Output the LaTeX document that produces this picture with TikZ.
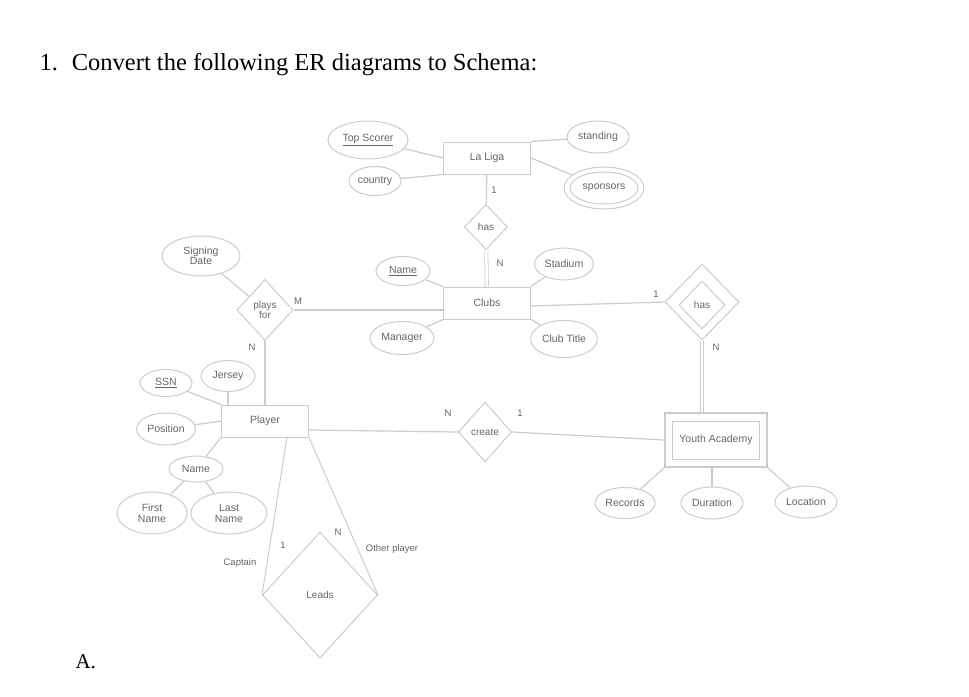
\documentclass[tikz,border=0pt]{standalone}
\usepackage{fontspec}
\setmainfont{Liberation Serif}
\newfontfamily\dsans{Liberation Sans}
\usetikzlibrary{shapes.geometric}
\definecolor{ln}{gray}{0.8}
\definecolor{tx}{gray}{0.4}
\begin{document}
\begin{tikzpicture}[x=1pt,y=-1pt,
  every node/.style={font=\dsans\fontsize{10.5}{10}\selectfont,text=tx},
  ent/.style={draw=ln,line width=1pt,minimum width=87pt,minimum height=32pt},
  att/.style={draw=ln,line width=1pt,ellipse,inner sep=0pt},
  rel/.style={draw=ln,line width=1pt,diamond,inner sep=0pt,align=center,font=\dsans\fontsize{10}{9}\selectfont},
  con/.style={draw=ln,line width=1.2pt},
  dbl/.style={draw=ln,line width=0.8pt,double distance=2.5pt},
  lab/.style={font=\dsans\fontsize{9.5}{9}\selectfont}]
\useasboundingbox[fill=white] (0,0) rectangle (969,696);
\node[anchor=west,text=black,font=\fontsize{24.5}{26}\selectfont] (title) at (36,65) {1.\hspace{14pt}Convert the following ER diagrams to Schema:};
\node[anchor=west,text=black,font=\fontsize{21}{22}\selectfont] (A) at (72,662) {A.};
% entities
\node[ent] (laliga) at (487,158) {La Liga};
\node[ent] (clubs) at (487,303) {Clubs};
\node[ent] (player) at (265,421) {Player};
\node[draw=ln,line width=1.5pt,minimum width=102pt,minimum height=54pt] (ya) at (716,440) {};
\node[draw=ln,line width=1pt,minimum width=87pt,minimum height=38pt] (yain) at (716,440) {Youth Academy};
% attributes
\node[att,minimum width=80pt,minimum height=38pt] (top) at (368,140) {\underline{Top Scorer}};
\node[att,minimum width=52pt,minimum height=29pt] (country) at (375,181) {country};
\node[att,minimum width=62pt,minimum height=32pt] (standing) at (598,137) {standing};
\node[att,minimum width=80pt,minimum height=42pt] (sponsors) at (604,188) {};
\node[att,minimum width=68pt,minimum height=32pt] (sp2) at (604,188) {sponsors};
\node[att,minimum width=59pt,minimum height=32pt] (stadium) at (564,264) {Stadium};
\node[att,minimum width=67pt,minimum height=37pt] (title2) at (564,339) {Club Title};
\node[att,minimum width=54pt,minimum height=29pt] (cname) at (403,271) {\underline{Name}};
\node[att,minimum width=64pt,minimum height=33pt] (manager) at (402,338) {Manager};
\node[att,minimum width=60pt,minimum height=31pt] (records) at (625,503) {Records};
\node[att,minimum width=62pt,minimum height=32pt] (duration) at (712,503) {Duration};
\node[att,minimum width=62pt,minimum height=32pt] (location) at (806,502) {Location};
\node[att,minimum width=78pt,minimum height=40pt,align=center,font=\dsans\fontsize{10.5}{8}\selectfont] (sign) at (201,256) {Signing\\Date};
\node[att,minimum width=52pt,minimum height=27pt] (ssn) at (166,383) {\underline{SSN}};
\node[att,minimum width=54pt,minimum height=31pt] (jersey) at (228,376) {Jersey};
\node[att,minimum width=59pt,minimum height=32pt] (position) at (166,429) {Position};
\node[att,minimum width=54pt,minimum height=26pt] (pname) at (196,469) {Name};
\node[att,minimum width=70pt,minimum height=42pt,align=center,font=\dsans\fontsize{10.5}{11}\selectfont] (first) at (152,513) {First\\Name};
\node[att,minimum width=76pt,minimum height=42pt,align=center,font=\dsans\fontsize{10.5}{11}\selectfont] (last) at (229,513) {Last\\Name};
% relationships
\node[rel,minimum width=43pt,minimum height=45pt] (has) at (486,227) {has};
\node[rel,minimum width=74pt,minimum height=76pt] (whas) at (702,302) {};
\node[rel,minimum width=46pt,minimum height=48pt] (whas2) at (702,305) {has};
\node[rel,minimum width=53pt,minimum height=60pt] (create) at (485,432) {create};
\node[rel,minimum width=56pt,minimum height=61pt,font=\dsans\fontsize{10}{8}\selectfont] (plays) at (265,310) {plays\\for};
\node[rel,minimum width=115pt,minimum height=126pt] (leads) at (320,595) {Leads};
% connectors
\draw[con] (top) -- (laliga.west);
\draw[con] (country) -- (laliga.south west);
\draw[con] (standing) -- (laliga.north east);
\draw[con] (sponsors) -- (laliga.east);
\draw[con] (laliga) -- (has);
\draw[dbl] (has) -- (clubs);
\draw[con] (cname) -- (clubs.north west);
\draw[con] (manager) -- (clubs.south west);
\draw[con] (stadium) -- (clubs.north east);
\draw[con] (title2) -- (clubs.south east);
\draw[con] (clubs.east) ++(0,3) coordinate (ce) -- (whas.west);
\draw[dbl] (whas.south) -- (ya.north -| whas.south);
\draw[con] (records) -- (ya.south west);
\draw[con] (duration) -- (duration |- ya.south);
\draw[con] (location) -- (ya.south east);
\draw[con] (plays.east) -- (clubs.west |- plays.east);
\draw[con] (sign) -- (plays);
\draw[con] (plays) -- (player);
\draw[con] (ssn) -- (player.north west);
\draw[con] (jersey) -- (jersey |- player.north);
\draw[con] (position) -- (player.west);
\draw[con] (pname) -- (player.south west);
\draw[con] (first) -- (pname);
\draw[con] (last) -- (pname);
\draw[con] (player.east) ++(0,9) coordinate (pe) -- (create.west);
\draw[con] (create.east) -- (ya.west);
\coordinate (pb) at (287,437);
\draw[ln,line width=1pt] (pb) -- (leads.west);
\draw[ln,line width=1pt] (player.south east) -- (leads.east);
% labels
\node[lab] (l1) at (494,190) {1};
\node[lab] (l2) at (500,263) {N};
\node[lab] (l3) at (656,294) {1};
\node[lab] (l4) at (716,347) {N};
\node[lab] (l5) at (298,301) {M};
\node[lab] (l6) at (252,347) {N};
\node[lab] (l7) at (448,413) {N};
\node[lab] (l8) at (520,413) {1};
\node[lab] (l9) at (283,545) {1};
\node[lab] (l10) at (240,563) {Captain};
\node[lab] (l11) at (338,532) {N};
\node[lab] (l12) at (392,549) {Other player};
\end{tikzpicture}
\end{document}
